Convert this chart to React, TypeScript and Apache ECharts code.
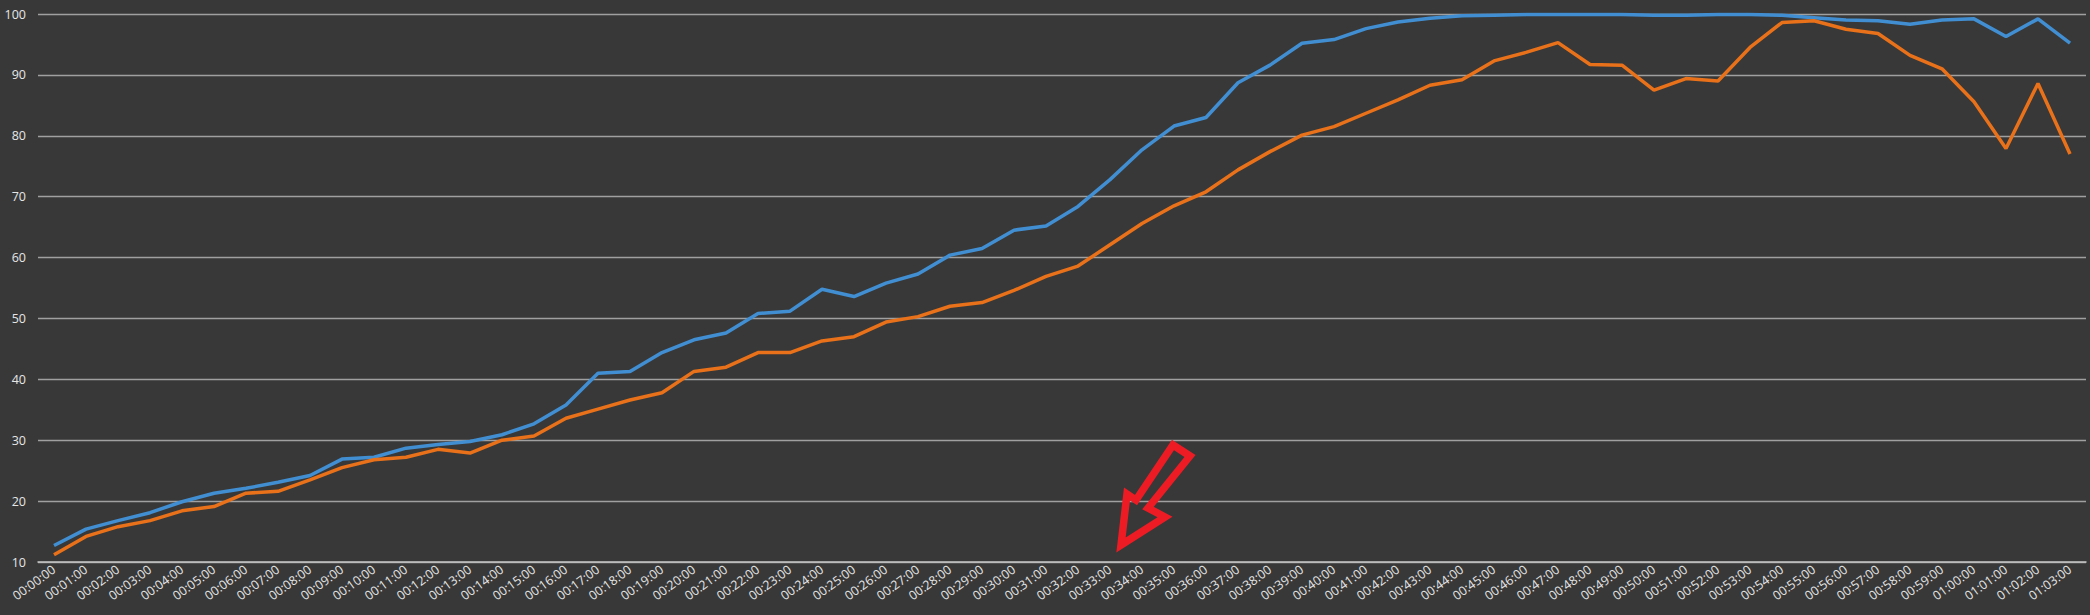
import React, { useEffect, useRef } from 'react';
import * as echarts from 'echarts';

// one sample per minute, 00:00:00 .. 01:03:00
const times = [
  '00:00:00', '00:01:00', '00:02:00', '00:03:00', '00:04:00', '00:05:00', '00:06:00', '00:07:00',
  '00:08:00', '00:09:00', '00:10:00', '00:11:00', '00:12:00', '00:13:00', '00:14:00', '00:15:00',
  '00:16:00', '00:17:00', '00:18:00', '00:19:00', '00:20:00', '00:21:00', '00:22:00', '00:23:00',
  '00:24:00', '00:25:00', '00:26:00', '00:27:00', '00:28:00', '00:29:00', '00:30:00', '00:31:00',
  '00:32:00', '00:33:00', '00:34:00', '00:35:00', '00:36:00', '00:37:00', '00:38:00', '00:39:00',
  '00:40:00', '00:41:00', '00:42:00', '00:43:00', '00:44:00', '00:45:00', '00:46:00', '00:47:00',
  '00:48:00', '00:49:00', '00:50:00', '00:51:00', '00:52:00', '00:53:00', '00:54:00', '00:55:00',
  '00:56:00', '00:57:00', '00:58:00', '00:59:00', '01:00:00', '01:01:00', '01:02:00', '01:03:00',
];

const blueSeries = [
  12.7, 15.4, 16.8, 18.1, 19.9, 21.3, 22.1, 23.1, 24.2, 26.9, 27.2, 28.7, 29.3, 29.8, 30.9, 32.7,
  35.8, 41.0, 41.3, 44.4, 46.5, 47.6, 50.8, 51.2, 54.8, 53.6, 55.8, 57.3, 60.4, 61.5, 64.5, 65.2,
  68.4, 72.8, 77.7, 81.6, 83.0, 88.7, 91.6, 95.2, 95.8, 97.6, 98.7, 99.3, 99.7, 99.8, 99.9, 99.9,
  99.9, 99.9, 99.8, 99.8, 99.9, 99.9, 99.8, 99.4, 99.0, 98.9, 98.3, 99.0, 99.2, 96.3, 99.2, 95.2,
];

const orangeSeries = [
  11.2, 14.2, 15.8, 16.8, 18.4, 19.1, 21.3, 21.6, 23.5, 25.5, 26.8, 27.2, 28.5, 27.9, 30.0, 30.7,
  33.6, 35.1, 36.6, 37.8, 41.3, 42.0, 44.4, 44.4, 46.3, 47.0, 49.4, 50.3, 52.0, 52.6, 54.6, 56.9,
  58.6, 62.1, 65.6, 68.5, 70.8, 74.4, 77.4, 80.1, 81.5, 83.7, 85.9, 88.3, 89.2, 92.3, 93.7, 95.3,
  91.7, 91.6, 87.5, 89.4, 89.0, 94.5, 98.6, 98.9, 97.5, 96.8, 93.2, 91.0, 85.6, 77.9, 88.6, 77.0,
];

// hand-drawn red arrow outline pasted over the chart (stroke centre line)
const arrowPoints = [
  [1173, 445], [1190, 456], [1148, 508], [1165, 517], [1121, 545], [1127, 494], [1136, 500],
];

const App: React.FC = () => {
  const chartRef = useRef<HTMLDivElement>(null);

  useEffect(() => {
    if (!chartRef.current) return;
    const chart = echarts.init(chartRef.current, undefined, { renderer: 'svg' });

    const font = "'Open Sans', 'Noto Sans', sans-serif";

    chart.setOption({
      animation: false,
      backgroundColor: '#383838',
      textStyle: { fontFamily: font },
      grid: { left: 38, right: 4, top: 14, bottom: 53, containLabel: false },
      xAxis: {
        type: 'category',
        data: times,
        boundaryGap: true,
        axisLine: { show: true, lineStyle: { color: '#c4c4c4', width: 1.5 } },
        axisTick: { show: false },
        axisLabel: {
          interval: 0,
          rotate: 36,
          margin: 6,
          color: '#e6e6e6',
          fontSize: 12.5,
          fontFamily: font,
        },
      },
      yAxis: {
        type: 'value',
        min: 10,
        max: 100,
        interval: 10,
        axisLine: { show: false },
        axisTick: { show: false },
        axisLabel: { margin: 12, color: '#e6e6e6', fontSize: 12.5, fontFamily: font },
        splitLine: { lineStyle: { color: '#a0a0a0', width: 1.3 } },
      },
      series: [
        {
          name: 'blue',
          type: 'line',
          data: blueSeries,
          symbol: 'none',
          lineStyle: { color: '#418fd2', width: 3.5 },
          z: 3,
        },
        {
          name: 'orange',
          type: 'line',
          data: orangeSeries,
          symbol: 'none',
          lineStyle: { color: '#e8711a', width: 3.5 },
          z: 4,
        },
      ],
      graphic: [
        {
          type: 'polygon',
          z: 100,
          shape: { points: arrowPoints },
          style: { fill: 'none', stroke: '#ed1c24', lineWidth: 7.5, lineJoin: 'miter', miterLimit: 10 },
        },
      ],
    });

    return () => {
      chart.dispose();
    };
  }, []);

  return (
    <div
      ref={chartRef}
      style={{ position: 'fixed', left: 0, top: 0, width: 2090, height: 615, background: '#383838' }}
    />
  );
};

export default App;
